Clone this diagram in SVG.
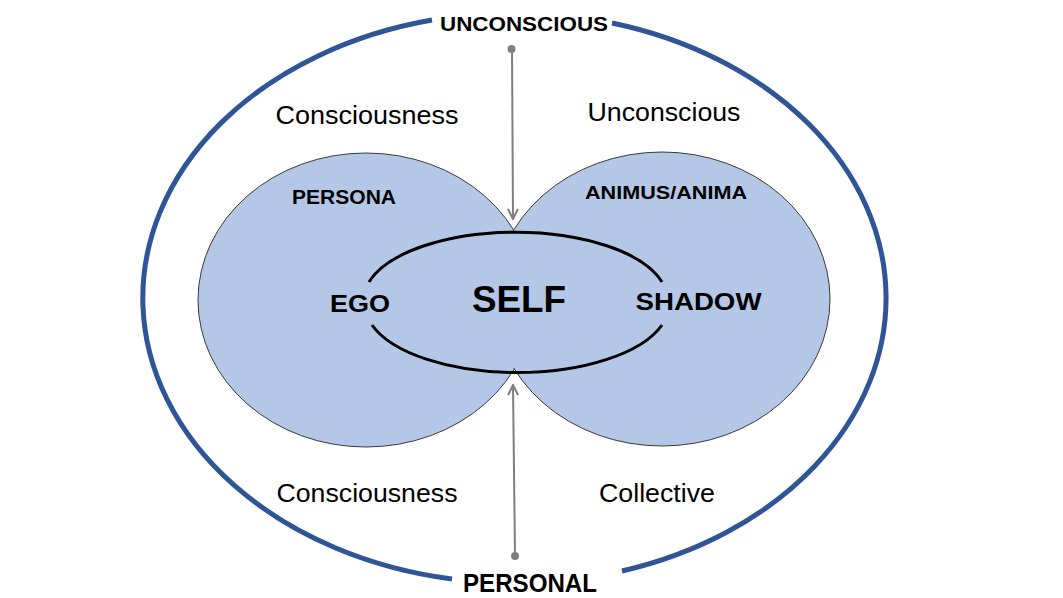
<svg xmlns="http://www.w3.org/2000/svg" width="1063" height="598" viewBox="0 0 1063 598">
<defs>
<style>
.t{font-family:"Liberation Sans",Arial,sans-serif;fill:#000;text-anchor:middle}
.b{font-weight:bold}
.lobe{fill:#B4C7E7;stroke:#3A3A3A;stroke-width:1}
.con{stroke:#7F7F7F;stroke-width:2;fill:none}
</style>
<marker id="ah" viewBox="0 0 12 12" refX="11" refY="6" markerWidth="12" markerHeight="12" markerUnits="userSpaceOnUse" orient="auto">
<path d="M1,1 L11,6 L1,11" fill="none" stroke="#7F7F7F" stroke-width="2"/>
</marker>
</defs>
<rect width="1063" height="598" fill="#fff"/>
<g id="outer">
<path d="M612,23 A371,285 0 0 1 622,571 M452,579 A371,285 0 0 1 432,20" fill="none" stroke="#2F5597" stroke-width="5"/>
<text class="t b" x="524" y="31" font-size="21" textLength="168" lengthAdjust="spacingAndGlyphs">UNCONSCIOUS</text>
<text class="t b" x="530" y="592" font-size="25" textLength="134" lengthAdjust="spacingAndGlyphs">PERSONAL</text>
</g>
<g id="quadrants">
<text class="t" x="367" y="124" font-size="25" textLength="183" lengthAdjust="spacingAndGlyphs">Consciousness</text>
<text class="t" x="664" y="121" font-size="25" textLength="153" lengthAdjust="spacingAndGlyphs">Unconscious</text>
<text class="t" x="367" y="502" font-size="25" textLength="181" lengthAdjust="spacingAndGlyphs">Consciousness</text>
<text class="t" x="657" y="502" font-size="25" textLength="116" lengthAdjust="spacingAndGlyphs">Collective</text>
</g>
<g id="persona">
<ellipse class="lobe" cx="366" cy="300" rx="168" ry="147"/>
</g>
<g id="animus">
<ellipse class="lobe" cx="662" cy="299" rx="168" ry="147"/>
</g>
<g id="self">
<ellipse cx="515" cy="300" rx="152" ry="68" fill="#B4C7E7"/>
<path d="M369,282 A152,68 0 0 1 662,282 M662,325 A152,68 0 0 1 372,325" fill="none" stroke="#000" stroke-width="3"/>
<text class="t b" x="519" y="312" font-size="37" textLength="94" lengthAdjust="spacingAndGlyphs">SELF</text>
</g>
<g id="labels">
<text class="t b" x="344" y="204" font-size="20" textLength="104" lengthAdjust="spacingAndGlyphs">PERSONA</text>
<text class="t b" x="666" y="199" font-size="18.5" textLength="162" lengthAdjust="spacingAndGlyphs">ANIMUS/ANIMA</text>
<text class="t b" x="360" y="312" font-size="23" textLength="60" lengthAdjust="spacingAndGlyphs">EGO</text>
<text class="t b" x="698.5" y="310" font-size="24" textLength="126" lengthAdjust="spacingAndGlyphs">SHADOW</text>
</g>
<g id="connectors">
<circle cx="511.5" cy="49" r="4" fill="#7F7F7F"/>
<line class="con" x1="512" y1="49" x2="513" y2="219" marker-end="url(#ah)"/>
<circle cx="515" cy="556" r="4" fill="#7F7F7F"/>
<line class="con" x1="515" y1="556" x2="513" y2="385" marker-end="url(#ah)"/>
</g>
</svg>
